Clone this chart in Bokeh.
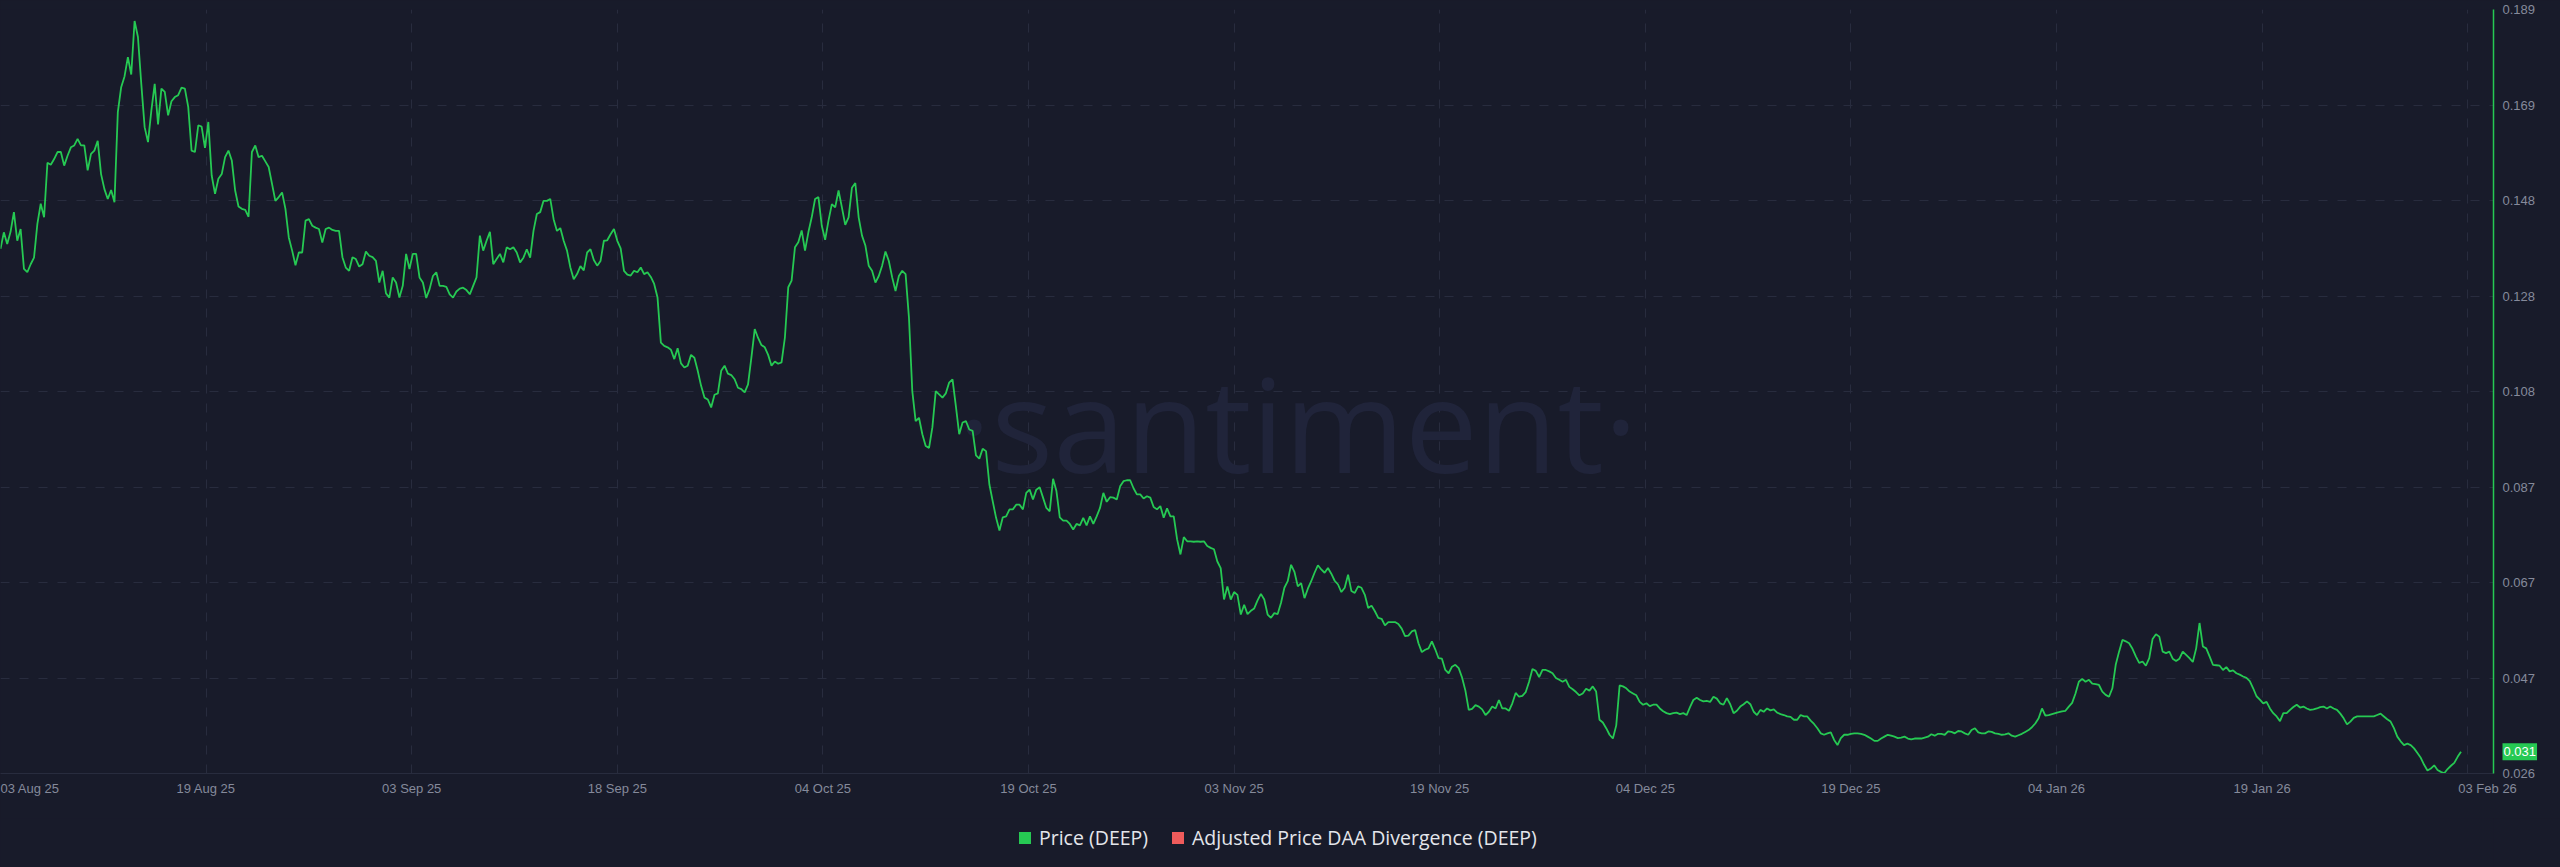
import numpy as np
import pandas as pd
from bokeh.plotting import figure
from bokeh.layouts import column
from bokeh.models import (Range1d, FixedTicker, PrintfTickFormatter, DatetimeTickFormatter,
                          Label, Legend, LegendItem, GlobalInlineStyleSheet)
from bokeh.embed import file_html
from bokeh.resources import INLINE

# ---------------- data ----------------
series_start = "2025-08-03 20:00"
step_hours = 12          # price_main: every 12 h from the start
# price_mid: the readings 6 h after each price_main point
price_main = [
    0.138, 0.139, 0.1458, 0.1422, 0.133, 0.1361, 0.1476, 0.1563, 0.1571, 0.1586,
    0.1578, 0.1600, 0.160, 0.1547, 0.1589, 0.1539, 0.1486, 0.1479, 0.1724, 0.1788,
    0.1865, 0.1731, 0.1607, 0.1731, 0.1721, 0.1664, 0.1703, 0.1723, 0.1682, 0.1586,
    0.1640, 0.165, 0.1497, 0.1539, 0.1589, 0.1504, 0.1465, 0.1448, 0.160, 0.1578,
    0.1554, 0.1482, 0.1500, 0.1404, 0.1345, 0.1372, 0.1443, 0.1425, 0.1393, 0.1425,
    0.1418, 0.1362, 0.1333, 0.1358, 0.1347, 0.1365, 0.1354, 0.1333, 0.1276, 0.1308,
    0.1301, 0.1337, 0.1369, 0.1308, 0.1294, 0.1330, 0.1301, 0.1283, 0.1289, 0.1297,
    0.1283, 0.1319, 0.1376, 0.1416, 0.1358, 0.1351, 0.1379, 0.1372, 0.1361, 0.1361,
    0.1454, 0.1482, 0.1486, 0.1418, 0.1397, 0.1340, 0.1326, 0.1334, 0.1379, 0.1344,
    0.1397, 0.1411, 0.1397, 0.1333, 0.1323, 0.1330,
    0.1326, 0.1320, 0.1276, 0.1173, 0.1165, 0.1168, 0.1127, 0.1154, 0.1120, 0.1063,
    0.1042, 0.1072, 0.1131, 0.1111, 0.1084, 0.1074, 0.1148, 0.119, 0.1170, 0.1131,
    0.1135, 0.1191, 0.1312, 0.1394, 0.1376, 0.1447, 0.149, 0.1399, 0.1475, 0.1504,
    0.1431, 0.151, 0.1447, 0.1387, 0.1333, 0.1322, 0.1374, 0.1319, 0.1322, 0.1326,
    0.1077, 0.1020, 0.0960, 0.100, 0.1070, 0.1072, 0.1102, 0.0985,
    0.1013, 0.0992, 0.0933, 0.0949, 0.0842, 0.078, 0.0810, 0.0825, 0.0835, 0.086,
    0.0846, 0.0872, 0.0828, 0.089, 0.0808, 0.0801, 0.0782, 0.0791, 0.0791, 0.0794,
    0.0828, 0.0841, 0.0850, 0.0874, 0.0887, 0.0870, 0.0857, 0.0853, 0.0830, 0.0832,
    0.0827, 0.0810, 0.0729, 0.0757, 0.0756, 0.0756, 0.0747, 0.0740, 0.0700, 0.0661,
    0.0649, 0.0601, 0.0602, 0.0614, 0.0645, 0.0601, 0.0604, 0.0626, 0.0672, 0.0692,
    0.0668, 0.0656, 0.0690, 0.0697, 0.0700, 0.0673, 0.0649, 0.0686, 0.0647, 0.0658,
    0.0615, 0.0608, 0.0592, 0.0585, 0.0585, 0.0571, 0.0556, 0.0568, 0.0521, 0.0529,
    0.0527, 0.0507, 0.0476, 0.0494, 0.0467, 0.0398, 0.0408, 0.0399, 0.0394, 0.0401,
    0.0401, 0.0396, 0.0434, 0.0428, 0.0458, 0.0481, 0.0483, 0.0480, 0.0466, 0.0458,
    0.0447, 0.0436, 0.0433, 0.0439, 0.0437, 0.0371, 0.0345, 0.0365, 0.0448, 0.0437,
    0.0429,
    0.0409, 0.0406, 0.0409, 0.0395, 0.0389, 0.0392, 0.0391, 0.0404, 0.0424, 0.0416,
    0.0415, 0.0422, 0.0409, 0.0410, 0.0396, 0.0410, 0.0410, 0.0387, 0.0394, 0.0397,
    0.0392, 0.0387, 0.0383, 0.0377, 0.0384, 0.0375, 0.0359, 0.0345, 0.0350, 0.0323,
    0.0345, 0.0347, 0.0348, 0.0345, 0.0337, 0.0332, 0.0341, 0.0343, 0.0338, 0.0341,
    0.0335, 0.0337, 0.0339, 0.0346, 0.0347, 0.0345, 0.0351, 0.0353, 0.0348, 0.0355,
    0.0350, 0.0348, 0.0351, 0.0347, 0.0346, 0.0343, 0.0344, 0.0351, 0.0361, 0.0380,
    0.0386, 0.0389, 0.0393, 0.0396, 0.0413, 0.0458, 0.0458, 0.0454, 0.0451, 0.0430,
    0.0444, 0.0522, 0.0544, 0.0528, 0.0498, 0.0492, 0.0549, 0.0554, 0.0519, 0.0507,
    0.0507, 0.0515, 0.0500, 0.0583, 0.0529, 0.0494, 0.0492, 0.0489, 0.0482, 0.0473,
    0.0466, 0.0444, 0.0420, 0.0415, 0.0391, 0.0374, 0.0391, 0.0404, 0.0403, 0.0401,
    0.0399, 0.0404, 0.0401, 0.0401, 0.0390, 0.0367, 0.0381, 0.0384, 0.0384, 0.0384,
    0.0390, 0.0378, 0.0359, 0.0331, 0.0326, 0.0316, 0.0296, 0.0269, 0.0280, 0.0266,
    0.0272, 0.0285, 0.0309,
]
price_mid = [
    0.1415, 0.1416, 0.1397, 0.1337, 0.1347, 0.1433, 0.1447, 0.1559, 0.1586, 0.1557,
    0.1596, 0.1614, 0.1600, 0.1582, 0.1610, 0.1507, 0.1505, 0.1671, 0.1747, 0.1751,
    0.1831, 0.1639, 0.1674, 0.1645, 0.1714, 0.1694, 0.1707, 0.1721, 0.1589, 0.1643,
    0.1595, 0.1536, 0.1529, 0.1575, 0.1568, 0.1470, 0.1463, 0.1586, 0.1575, 0.1566,
    0.1518, 0.1490, 0.1465, 0.1376, 0.1372, 0.1440, 0.1429, 0.1422, 0.1422, 0.1420,
    0.1418, 0.1340, 0.1362, 0.1342, 0.1374, 0.1362, 0.1308, 0.1285, 0.1319, 0.1276,
    0.1369, 0.1369, 0.1319, 0.1275, 0.1322, 0.1301, 0.1299, 0.1276, 0.1295, 0.1292,
    0.1301, 0.1408, 0.1397, 0.1347, 0.1369, 0.1383, 0.1383, 0.1351, 0.1379, 0.1418,
    0.1458, 0.1482, 0.1443, 0.1424, 0.1376, 0.1315, 0.1343, 0.1372, 0.1356, 0.1354,
    0.1398, 0.1422, 0.1381, 0.1325, 0.1333, 0.1340,
    0.1330, 0.1305, 0.1180, 0.1170, 0.1145, 0.1136, 0.1131, 0.1148, 0.1088, 0.1059,
    0.1069, 0.1120, 0.1114, 0.1102, 0.1081, 0.1091, 0.1209, 0.1175, 0.1154, 0.1140,
    0.1138, 0.1298, 0.1383, 0.1419, 0.1415, 0.1486, 0.1429, 0.1440, 0.1468, 0.1468,
    0.1447, 0.1520, 0.1408, 0.1344, 0.1308, 0.1344, 0.1354, 0.1290, 0.1333, 0.1234,
    0.1013, 0.0985, 0.0956, 0.1077, 0.1063, 0.1095, 0.1045, 0.1010,
    0.0995, 0.0940, 0.0954, 0.0878, 0.0807, 0.0808, 0.0825, 0.0835, 0.0825, 0.0867,
    0.0867, 0.0850, 0.0821, 0.0864, 0.0801, 0.0794, 0.0794, 0.0807, 0.0810, 0.0810,
    0.0860, 0.0851, 0.0846, 0.0885, 0.0887, 0.0857, 0.0848, 0.0850, 0.0825, 0.0807,
    0.0810, 0.0761, 0.0766, 0.0757, 0.0757, 0.0757, 0.0743, 0.0714, 0.0633, 0.0633,
    0.0643, 0.0622, 0.0609, 0.0631, 0.0633, 0.0594, 0.0602, 0.0658, 0.0707, 0.0661,
    0.0636, 0.0672, 0.0706, 0.0690, 0.0688, 0.0665, 0.0658, 0.0651, 0.0661, 0.0643,
    0.0620, 0.0594, 0.0578, 0.0585, 0.0581, 0.0555, 0.0565, 0.0540, 0.0526, 0.0544,
    0.0508, 0.0483, 0.0490, 0.0487, 0.0439, 0.0400, 0.0405, 0.0387, 0.0405, 0.0419,
    0.0401, 0.0412, 0.0426, 0.0436, 0.0485, 0.0468, 0.0483, 0.0476, 0.0462, 0.0462,
    0.0442, 0.0429, 0.0443, 0.0448, 0.0377, 0.0359, 0.0337, 0.0450, 0.0444, 0.0433,
    0.0415,
    0.0412, 0.0409, 0.0401, 0.0391, 0.0391, 0.0389, 0.0387, 0.0419, 0.0419, 0.0417,
    0.0426, 0.0412, 0.0423, 0.0391, 0.0405, 0.0416, 0.0394, 0.0398, 0.0401, 0.0399,
    0.0389, 0.0384, 0.0377, 0.0387, 0.0384, 0.0368, 0.0348, 0.0348, 0.0334, 0.0338,
    0.0345, 0.0348, 0.0347, 0.0341, 0.0332, 0.0337, 0.0345, 0.0341, 0.0339, 0.0337,
    0.0337, 0.0337, 0.0341, 0.0343, 0.0347, 0.0352, 0.0348, 0.0352, 0.0345, 0.0359,
    0.0348, 0.0352, 0.0348, 0.0345, 0.0348, 0.0341, 0.0347, 0.0355, 0.0369, 0.0401,
    0.0387, 0.0391, 0.0395, 0.0405, 0.0433, 0.0464, 0.0462, 0.0453, 0.0437, 0.0426,
    0.0494, 0.0547, 0.0540, 0.0512, 0.0501, 0.0508, 0.0559, 0.0522, 0.0522, 0.0502,
    0.0522, 0.0508, 0.0529, 0.0533, 0.0512, 0.0493, 0.0483, 0.0480, 0.0476, 0.0469,
    0.0459, 0.0427, 0.0412, 0.0401, 0.0384, 0.0391, 0.0398, 0.0409, 0.0405, 0.0398,
    0.0401, 0.0405, 0.0405, 0.0398, 0.0380, 0.0373, 0.0384, 0.0384, 0.0384, 0.0387,
    0.0384, 0.0373, 0.0341, 0.0323, 0.0323, 0.0306, 0.0281, 0.0273, 0.0270, 0.0263,
    0.0279, 0.0298,
]

tick_labels = ["03 Aug 25", "19 Aug 25", "03 Sep 25", "18 Sep 25", "04 Oct 25",
               "19 Oct 25", "03 Nov 25", "19 Nov 25", "04 Dec 25", "19 Dec 25",
               "04 Jan 26", "19 Jan 26", "03 Feb 26"]
tick_span_days = 184

y_min, y_max = 0.02625, 0.18895
n_y_ticks = 9

legend_labels = ["Price (DEEP)", "Adjusted Price DAA Divergence (DEEP)"]
watermark_text = "\u00b7santiment\u00b7"

# ---------------- style ----------------
BG = "#181b2a"
GRID = "#282c3e"
GREEN = "#26c953"
RED = "#ef5b5b"
TICK_TXT = "#858a9b"
FONT = "Liberation Sans"
NBSP = "\u00a0"

# interleave the two sets of readings into one 6-hourly series
price = np.empty(len(price_main) + len(price_mid))
price[0::2] = price_main
price[1::2] = price_mid
start = pd.Timestamp(series_start)
dates = start + pd.to_timedelta(np.arange(len(price)) * (step_hours / 2), unit="h")

tick_step = pd.Timedelta(days=tick_span_days) / (len(tick_labels) - 1)
tick_ms = [int((start + k * tick_step).value // 10**6) for k in range(len(tick_labels))]

# frame spans 0..2493 px; one tick interval is 205.6 px wide
px_per_day = 205.6 / (tick_span_days / (len(tick_labels) - 1))
x_start_ms = tick_ms[0]
x_end_ms = int((start + pd.Timedelta(days=2493 / px_per_day)).value // 10**6)

y_ticks = list(np.linspace(y_min, y_max, n_y_ticks))

fig = figure(width=2560, height=818, x_axis_type="datetime", y_axis_location="right",
             x_range=Range1d(x_start_ms, x_end_ms), y_range=Range1d(y_min, y_max),
             output_backend="svg", toolbar_location=None,
             background_fill_color=BG, border_fill_color=BG,
             outline_line_color=None,
             min_border_left=0, min_border_top=9, min_border_right=67, min_border_bottom=45)

# watermark
fig.add_layout(Label(x=1297, y=351, x_units="screen", y_units="screen", text=watermark_text,
                     text_align="center", text_baseline="alphabetic",
                     text_font="Open Sans", text_font_size="130px",
                     text_color="#20243a", level="underlay"))

fig.line(x=dates, y=price, line_color=GREEN, line_width=1.8)

# grid
fig.grid.grid_line_color = GRID
fig.grid.grid_line_dash = "9 10"
fig.grid.grid_line_width = 1

# x axis (the last label is nudged right as in the original)
axis_labels = tick_labels[:-1] + [NBSP * 11 + tick_labels[-1]]
xa = fig.xaxis[0]
xa.ticker = FixedTicker(ticks=tick_ms)
xa.major_label_overrides = dict(zip(tick_ms, axis_labels))
fmt = "%d %b %y"
xa.formatter = DatetimeTickFormatter(milliseconds=fmt, seconds=fmt, minsec=fmt, minutes=fmt,
                                     hourmin=fmt, hours=fmt, days=fmt, months=fmt, years=fmt)
xa.axis_line_color = GRID
xa.major_tick_line_color = None
xa.minor_tick_line_color = None
xa.major_tick_out = 0
xa.major_tick_in = 0
xa.major_label_standoff = 7
xa.major_label_text_font = FONT
xa.major_label_text_font_size = "13px"
xa.major_label_text_color = TICK_TXT

# y axis
ya = fig.yaxis[0]
ya.ticker = FixedTicker(ticks=y_ticks)
ya.formatter = PrintfTickFormatter(format="%.3f")
ya.axis_line_color = GREEN
ya.axis_line_width = 1.5
ya.major_tick_line_color = None
ya.minor_tick_line_color = None
ya.major_tick_out = 0
ya.major_tick_in = 0
ya.major_label_standoff = 9
ya.major_label_text_font = FONT
ya.major_label_text_font_size = "13px"
ya.major_label_text_color = TICK_TXT

# last value badge (kept in a side panel so it is not clipped to the frame)
fig.add_layout(Label(x=x_end_ms, y=price[-1], text=f"{price[-1]:.3f}",
                     x_offset=9, text_align="left", text_baseline="middle",
                     text_font=FONT, text_font_size="13px", text_color="white",
                     background_fill_color=GREEN, padding=(1, 4)), "below")

# legend strip
lfig = figure(width=2560, height=49, x_range=Range1d(0, 1), y_range=Range1d(0, 1),
              x_axis_location=None, y_axis_location=None,
              output_backend="svg", toolbar_location=None,
              background_fill_color=BG, border_fill_color=BG, outline_line_color=None,
              min_border=0)
lfig.grid.visible = False
r1 = lfig.quad(left=[0], right=[0], bottom=[0], top=[0], fill_color=GREEN, line_color=None)
r2 = lfig.quad(left=[0], right=[0], bottom=[0], top=[0], fill_color=RED, line_color=None)
legend = Legend(items=[LegendItem(label=legend_labels[0], renderers=[r1]),
                       LegendItem(label=legend_labels[1], renderers=[r2])],
                orientation="horizontal", location=(1017, 16),
                background_fill_alpha=0, border_line_color=None,
                label_text_color="#e4e6eb", label_text_font="Open Sans",
                label_text_font_size="19.5px",
                glyph_width=15, glyph_height=15, label_standoff=7, spacing=22,
                padding=3, margin=0)
lfig.add_layout(legend)

p = column(fig, lfig, spacing=0)
p.stylesheets = [GlobalInlineStyleSheet(
    css=f"html, body {{ margin: 0; padding: 0; background-color: {BG}; overflow: hidden; }}")]

open("out.html", "w").write(file_html(p, INLINE))
